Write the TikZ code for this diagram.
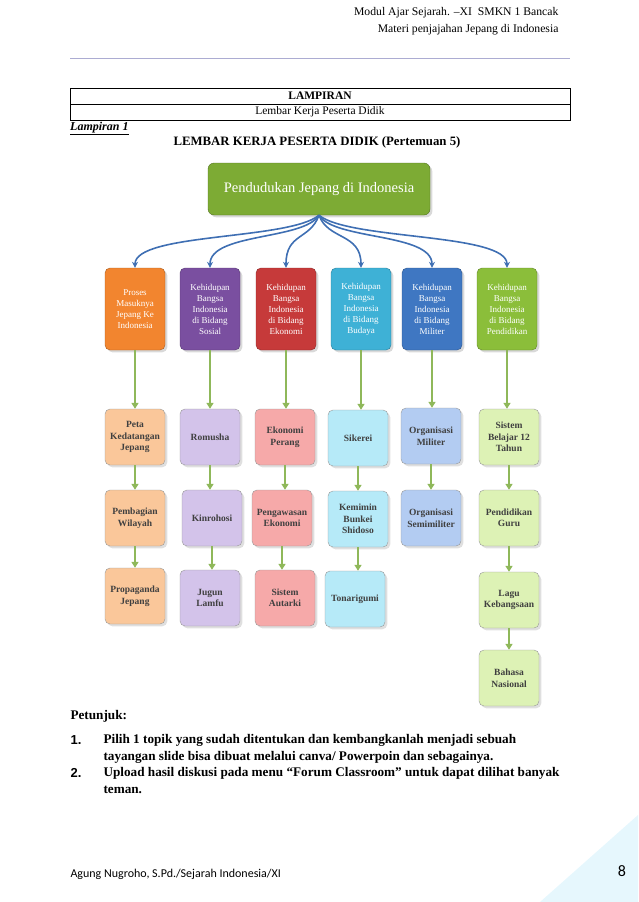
\documentclass[tikz,border=0pt]{standalone}
\usepackage{fontspec}
\setmainfont{Liberation Serif}
\newfontfamily\footf{Carlito}
\newfontfamily\numf{Liberation Sans}
\usetikzlibrary{arrows.meta,shadows,calc}
\definecolor{orA}{HTML}{F2852F}\definecolor{orB}{HTML}{FAC79A}
\definecolor{puA}{HTML}{7A4FA0}\definecolor{puB}{HTML}{D3C3EA}
\definecolor{reA}{HTML}{C63A3A}\definecolor{reB}{HTML}{F6A9A9}
\definecolor{cyA}{HTML}{3EB1D6}\definecolor{cyB}{HTML}{B6EAF8}
\definecolor{blA}{HTML}{3F77C2}\definecolor{blB}{HTML}{B3CCF2}
\definecolor{grA}{HTML}{8BBE3A}\definecolor{grB}{HTML}{DDF2B5}
\definecolor{arrG}{HTML}{8FB85A}\definecolor{arrB}{HTML}{3F6FB3}
\tikzset{
 top/.style={draw=#1!70!black,fill=#1,rounded corners=5pt,minimum width=60pt,minimum height=82pt,text=white,align=center,font=\fontsize{9}{11}\selectfont,inner sep=1pt,drop shadow={opacity=.3}},
 kid/.style={draw=gray!80,fill=#1,rounded corners=5pt,minimum width=60pt,minimum height=56pt,align=center,font=\fontsize{9.5}{11.5}\selectfont\bfseries,inner sep=1pt,text=black!75,drop shadow={opacity=.25}},
 ga/.style={-{Triangle[length=6pt,width=7pt]},arrG,line width=1.8pt},
 ba/.style={-{Stealth[length=6pt,width=6pt]},arrB,line width=1.6pt},
 tx/.style={anchor=west,font=\fontsize{13.2}{14}\selectfont\bfseries}
}
\begin{document}
\begin{tikzpicture}[x=1pt,y=-1pt]
\useasboundingbox (0,0) rectangle (638,902);
\fill[cyan!10] (638,815) -- (638,902) -- (540,902) -- cycle;
\node[anchor=east,font=\fontsize{11.7}{12}\selectfont] (h1) at (562,13) {Modul Ajar Sejarah. –XI\ \ SMKN 1 Bancak};
\node[anchor=east,font=\fontsize{11.7}{12}\selectfont] (h2) at (562,30) {Materi penjajahan Jepang di Indonesia};
\draw[blue!30!gray!50,line width=0.8pt] (70,58) -- (570,58);
\draw (70,88) rectangle (570,120); \draw (70,104) -- (570,104);
\node[font=\fontsize{11.5}{12}\selectfont\bfseries] (t1) at (320,96) {LAMPIRAN};
\node[font=\fontsize{11.5}{12}\selectfont] (t2) at (320,112) {Lembar Kerja Peserta Didik};
\node[anchor=west,font=\fontsize{12}{12}\selectfont\bfseries\itshape,inner sep=1pt] (l1) at (69,128.5) {\underline{Lampiran 1}};
\node[font=\fontsize{12.8}{12}\selectfont\bfseries] (l2) at (317,142) {LEMBAR KERJA PESERTA DIDIK (Pertemuan 5)};
\node[draw=grA!60!black,fill=grA!90!black,rounded corners=6pt,minimum width=222pt,minimum height=52pt,text=white,font=\fontsize{14.5}{15}\selectfont,drop shadow={opacity=.3}] (root) at (319,189) {Pendudukan Jepang di Indonesia};
\node[top=orA] (a) at (135,309) {Proses\\Masuknya\\Jepang Ke\\Indonesia};
\node[top=puA] (b) at (210,309) {Kehidupan\\Bangsa\\Indonesia\\di Bidang\\Sosial};
\node[top=reA] (c) at (286,309) {Kehidupan\\Bangsa\\Indonesia\\di Bidang\\Ekonomi};
\node[top=cyA] (d) at (361,309) {Kehidupan\\Bangsa\\Indonesia\\di Bidang\\Budaya};
\node[top=blA] (e) at (432,309) {Kehidupan\\Bangsa\\Indonesia\\di Bidang\\Militer};
\node[top=grA] (f) at (507,309) {Kehidupan\\Bangsa\\Indonesia\\di Bidang\\Pendidikan};
\foreach \n/\dx in {a/-10,b/-5,c/-3,d/3,e/5,f/10}
 \draw[ba] (root.south) .. controls ($(root.south)+(\dx*3,25)$) and ($(\n.north)+(0,-35)$) .. (\n.north);
\node[kid=orB] (a1) at (135,437) {Peta\\Kedatangan\\Jepang};
\node[kid=orB] (a2) at (135,518) {Pembagian\\Wilayah};
\node[kid=orB] (a3) at (135,596) {Propaganda\\Jepang};
\node[kid=puB] (b1) at (210,437) {Romusha};
\node[kid=puB] (b2) at (212,518) {Kinrohosi};
\node[kid=puB] (b3) at (210,598) {Jugun\\Lamfu};
\node[kid=reB] (c1) at (285,437) {Ekonomi\\Perang};
\node[kid=reB] (c2) at (282,518) {Pengawasan\\Ekonomi};
\node[kid=reB] (c3) at (285,598) {Sistem\\Autarki};
\node[kid=cyB] (d1) at (358,438) {Sikerei};
\node[kid=cyB] (d2) at (358,519) {Kemimin\\Bunkei\\Shidoso};
\node[kid=cyB] (d3) at (355,599) {Tonarigumi};
\node[kid=blB] (e1) at (431,436) {Organisasi\\Militer};
\node[kid=blB] (e2) at (431,518) {Organisasi\\Semimiliter};
\node[kid=grB] (f1) at (509,437) {Sistem\\Belajar 12\\Tahun};
\node[kid=grB] (f2) at (509,518) {Pendidikan\\Guru};
\node[kid=grB] (f3) at (509,600) {Lagu\\Kebangsaan};
\node[kid=grB] (f4) at (509,678) {Bahasa\\Nasional};
\foreach \p/\q in {a/a1,a1/a2,a2/a3,b/b1,b1/b2,b2/b3,c/c1,c1/c2,c2/c3,d/d1,d1/d2,d2/d3,e/e1,e1/e2,f/f1,f1/f2,f2/f3,f3/f4}
 \draw[ga] (\p.south) -- (\p.south |- \q.north);
\node[tx] (p0) at (67,716) {Petunjuk:};
\node[anchor=west,font=\numf\fontsize{13}{14}\selectfont\bfseries] (n1) at (67,740) {1.};
\node[tx] (p1) at (100,740) {Pilih 1 topik yang sudah ditentukan dan kembangkanlah menjadi sebuah};
\node[tx] (p1b) at (100,757) {tayangan slide bisa dibuat melalui canva/ Powerpoin dan sebagainya.};
\node[anchor=west,font=\numf\fontsize{13}{14}\selectfont\bfseries] (n2) at (67,773) {2.};
\node[tx] (p2) at (100,773) {Upload hasil diskusi pada menu “Forum Classroom” untuk dapat dilihat banyak};
\node[tx] (p2b) at (100,790) {teman.};
\node[anchor=west,font=\footf\fontsize{12}{13}\selectfont] (ft) at (67,874) {Agung Nugroho, S.Pd./Sejarah Indonesia/XI};
\node[font=\footf\fontsize{16}{17}\selectfont] (pg) at (622,871) {8};
\end{tikzpicture}
\end{document}
